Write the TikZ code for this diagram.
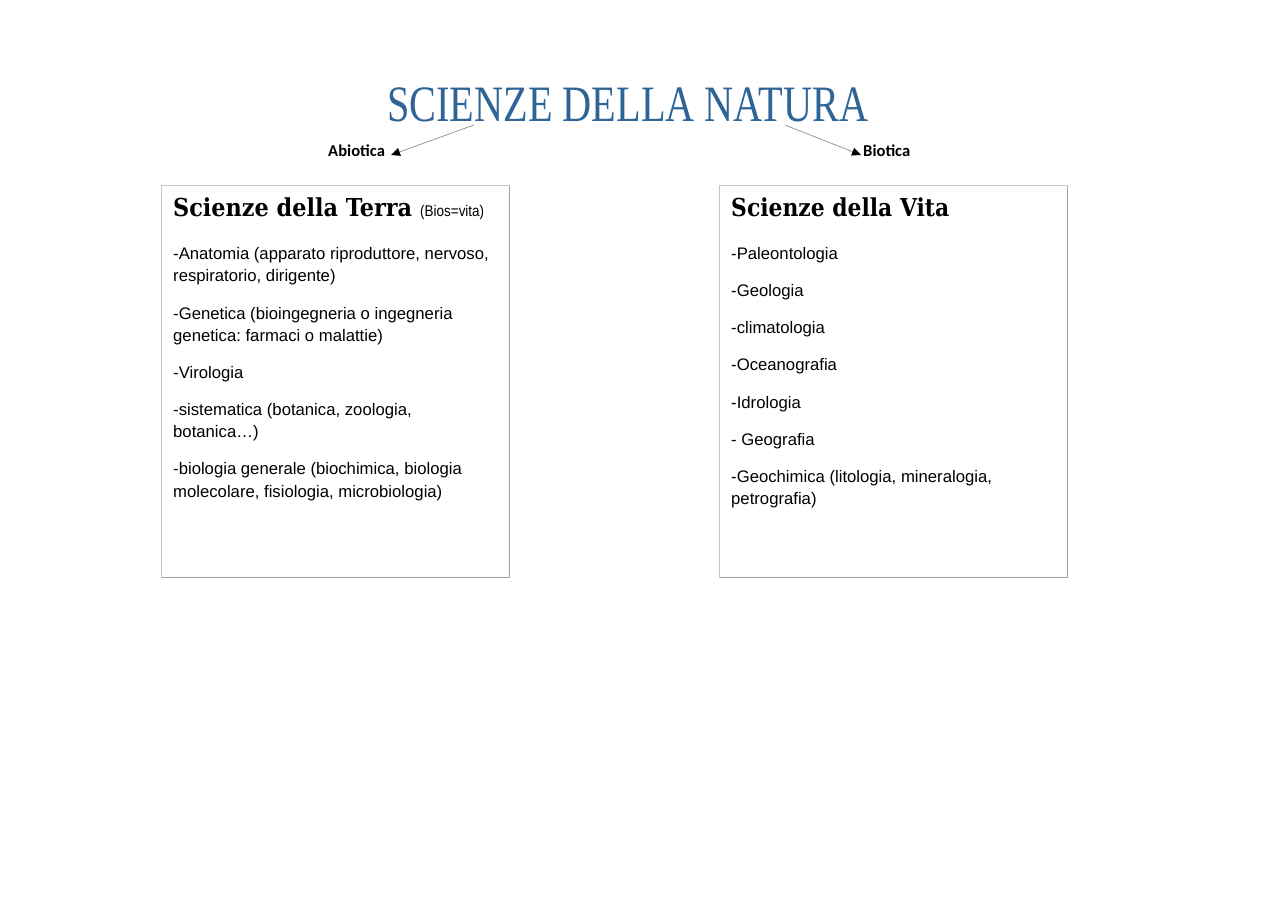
\documentclass[tikz,border=0pt]{standalone}
\usepackage{fontspec}
\usepackage{graphicx}
\setmainfont{Liberation Sans}
\newfontfamily\titlefont{Liberation Serif}
\newfontfamily\headfont{DejaVu Serif}
\newfontfamily\labfont{Carlito}
\usetikzlibrary{arrows.meta}
\definecolor{titleblue}{RGB}{46,100,150}
\frenchspacing
\begin{document}
\begin{tikzpicture}[x=1pt,y=1pt,
  body/.style={anchor=base west,inner sep=0pt,font=\fontsize{16.7}{22}\selectfont},
  lab/.style={anchor=base west,inner sep=0pt,font=\labfont\bfseries\fontsize{16.6}{20}\selectfont},
  conn/.style={draw=gray!80,line width=0.8pt,-{Triangle[length=9pt,width=8pt,color=black,fill=black]}},
  boxlt/.style={draw=gray!45,line width=1pt},
  boxrb/.style={draw=gray!75,line width=1pt}]
\useasboundingbox[fill=white] (0,0) rectangle (1280,-905);
% title
\node[anchor=base west,inner sep=0pt,text=titleblue] (title) at (387,-121)
  {\resizebox{481pt}{\height}{\titlefont\fontsize{51}{60}\selectfont SCIENZE DELLA NATURA}};
% labels
\node[lab] (abio) at (328,-156) {Abiotica};
\node[lab] (bio) at (863,-156) {Biotica};
\coordinate (aS) at (474,-125);
\coordinate (aE) at (391,-155);
\coordinate (bS) at (785,-125);
\coordinate (bE) at (861,-155);
\draw[conn] (aS) -- (aE);
\draw[conn] (bS) -- (bE);
% boxes
\coordinate (L1) at (161.5,-185.5);
\coordinate (L2) at (509.5,-577.5);
\coordinate (R1) at (719.5,-185.5);
\coordinate (R2) at (1067.5,-577.5);
\draw[boxlt] (L1) rectangle (L2);
\draw[boxrb] (L1 |- L2) -- (L2) -- (L2 |- L1);
\draw[boxlt] (R1) rectangle (R2);
\draw[boxrb] (R1 |- R2) -- (R2) -- (R2 |- R1);
% left box text
\node[anchor=base west,inner sep=0pt] (hL) at (173,-216)
  {\resizebox{239pt}{\height}{\headfont\bfseries\fontsize{24.7}{28}\selectfont Scienze della Terra}};
\node[anchor=base west,inner sep=0pt] (bios) at (420,-216)
  {\resizebox{64pt}{\height}{\fontsize{15.5}{18}\selectfont (Bios=vita)}};
\node[body] (l1) at (173,-259) {-Anatomia (apparato riproduttore, nervoso,};
\node[body] (l2) at (173,-281) {respiratorio, dirigente)};
\node[body] (l3) at (173,-319) {-Genetica (bioingegneria o ingegneria};
\node[body] (l4) at (173,-341) {genetica: farmaci o malattie)};
\node[body] (l5) at (173,-378) {-Virologia};
\node[body] (l6) at (173,-415) {-sistematica (botanica, zoologia,};
\node[body] (l7) at (173,-437) {botanica\ldots)};
\node[body] (l8) at (173,-474) {-biologia generale (biochimica, biologia};
\node[body] (l9) at (173,-497) {molecolare, fisiologia, microbiologia)};
% right box text
\node[anchor=base west,inner sep=0pt] (hR) at (731,-216)
  {\resizebox{218pt}{\height}{\headfont\bfseries\fontsize{24.7}{28}\selectfont Scienze della Vita}};
\node[body] (r1) at (731,-259) {-Paleontologia};
\node[body] (r2) at (731,-296) {-Geologia};
\node[body] (r3) at (731,-333) {-climatologia};
\node[body] (r4) at (731,-370) {-Oceanografia};
\node[body] (r5) at (731,-408) {-Idrologia};
\node[body] (r6) at (731,-445) {- Geografia};
\node[body] (r7) at (731,-482) {-Geochimica (litologia, mineralogia,};
\node[body] (r8) at (731,-504) {petrografia)};
\end{tikzpicture}
\end{document}
